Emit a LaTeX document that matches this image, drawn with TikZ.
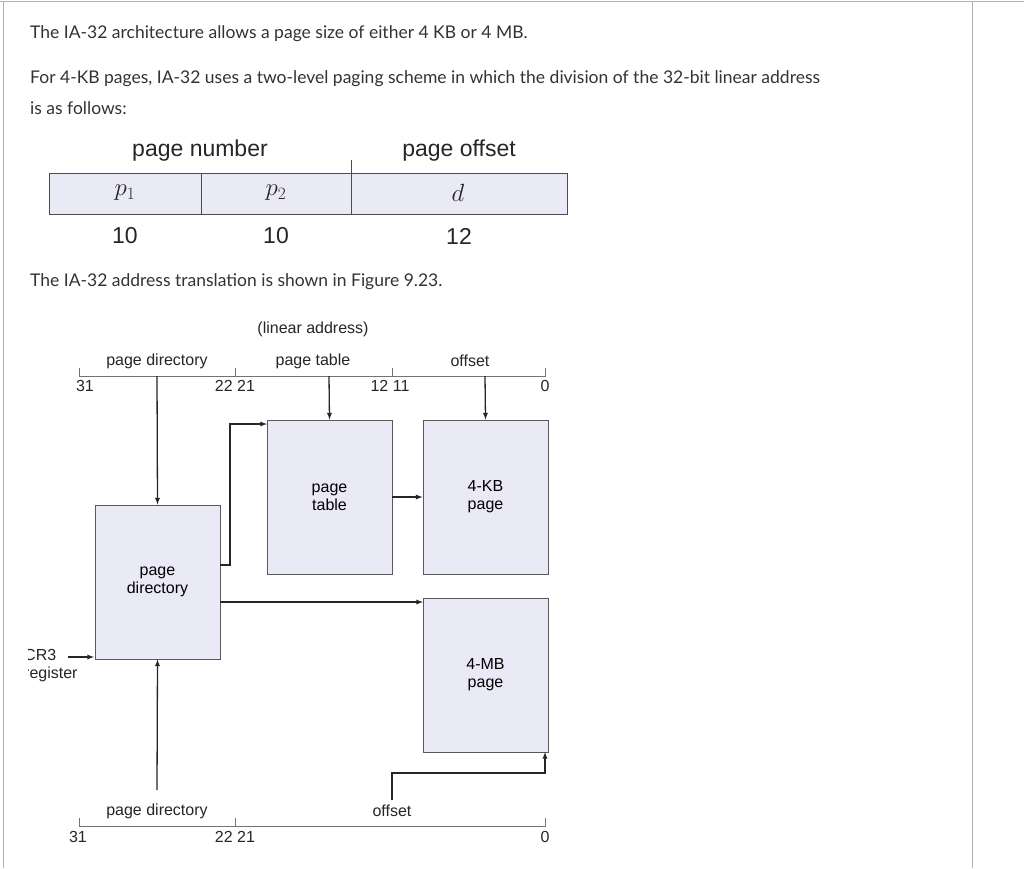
\documentclass[tikz,border=0pt]{standalone}
\usepackage{fontspec}
\setmainfont{Lato}
\newfontfamily\hel{Liberation Sans}
\begin{document}
\begin{tikzpicture}[x=1pt,y=-1pt,
  txt/.style={anchor=base west,inner sep=0,text=black!80,font=\fontsize{17.5}{20}\selectfont},
  lbl/.style={inner sep=0,font=\hel\fontsize{16}{18}\selectfont,text=black!85},
  big/.style={inner sep=0,font=\hel\fontsize{23}{26}\selectfont,text=black!85},
  blk/.style={draw=black!65,fill=cyan!20!blue!8!white,line width=0.9pt,inner sep=0,align=center,font=\hel\fontsize{16}{18}\selectfont},
  bar/.style={draw=black!55,line width=1pt},
  arr/.style={draw=black!85,line width=1.3pt,-latex}]
\useasboundingbox (0,0) rectangle (1024,868);
\fill[white] (0,0) rectangle (1024,868);
\draw[black!30,line width=1pt] (0,1)--(1024,1) (3,1)--(3,868) (972,1)--(972,868);
\node[txt] (t1) at (30,38) {The IA-32 architecture allows a page size of either 4 KB or 4 MB.};
\node[txt] (t2) at (30,83) {For 4-KB pages, IA-32 uses a two-level paging scheme in which the division of the 32-bit linear address};
\node[txt] (t3) at (30,114) {is as follows:};
% address format
\draw[fill=cyan!20!blue!8!white,draw=black!70,line width=1pt] (49,173) rectangle (567,214);
\draw[black!70,line width=1pt] (201,173)--(201,214) (351,160)--(351,214);
\node[big] (pn) at (200,151) {page number};
\node[big] (po) at (459,151) {page offset};
\node[big] (p1) at (125,193) {$p_1$};
\node[big] (p2) at (276,193) {$p_2$};
\node[big] (dd) at (458,193) {$d$};
\node[big] (n1) at (125,236) {10};
\node[big] (n2) at (276,236) {10};
\node[big] (n3) at (459,236) {12};
\node[txt] (t4) at (30,286) {The IA-32 address translation is shown in Figure 9.23.};
% linear address
\node[lbl] (la) at (313,329) {(linear address)};
\draw[bar] (79,368)--(79,376)--(545,376)--(545,368) (235,368)--(235,376) (392,368)--(392,376);
\node[lbl] (lpd) at (157,361) {page directory};
\node[lbl] (lpt) at (313,361) {page table};
\node[lbl] (lof) at (470,361) {offset};
\node[lbl] at (85,386) {31};
\node[lbl] at (235,386) {22 21};
\node[lbl] at (390,386) {12 11};
\node[lbl] at (545,386) {0};
\coordinate (a1) at (157,376); \coordinate (a2) at (329,376); \coordinate (a3) at (485,376);
% blocks
\node[blk,minimum width=125,minimum height=154] (pd) at (157.5,582) {page\\directory};
\node[blk,minimum width=125,minimum height=154] (pt) at (329.5,497) {page\\table};
\node[blk,minimum width=125,minimum height=154] (kb) at (485.5,497) {4-KB\\page};
\node[blk,minimum width=125,minimum height=154] (mb) at (485.5,675) {4-MB\\page};
\draw[arr] (a1)--(pd.north);
\draw[arr] (a2)--(pt.north);
\draw[arr] (a3)--(kb.north);
\draw[arr] (220,565)--(230,565)--(230,424)--(267,424);
\draw[arr] (pt.east)--(kb.west);
\draw[arr] (220,602)--(423,602);
\begin{scope}
\clip (28,600) rectangle (120,700);
\node[lbl,anchor=west,align=left] (cr3) at (24,666) {CR3\\register};
\end{scope}
\draw[arr] (68,657)--(94,657);
% bottom address
\draw[bar] (79,818)--(79,826)--(545,826)--(545,818) (235,818)--(235,826);
\node[lbl] (bpd) at (157,811) {page directory};
\node[lbl] (bof) at (392,811) {offset};
\node[lbl] at (78,837) {31};
\node[lbl] at (235,837) {22 21};
\node[lbl] at (545,837) {0};
\coordinate (b1) at (157,790); \coordinate (b2) at (392,800);
\draw[arr] (b1)--(pd.south);
\draw[arr] (b2)--(392,773)--(545,773)--(545,752);
\end{tikzpicture}
\end{document}
